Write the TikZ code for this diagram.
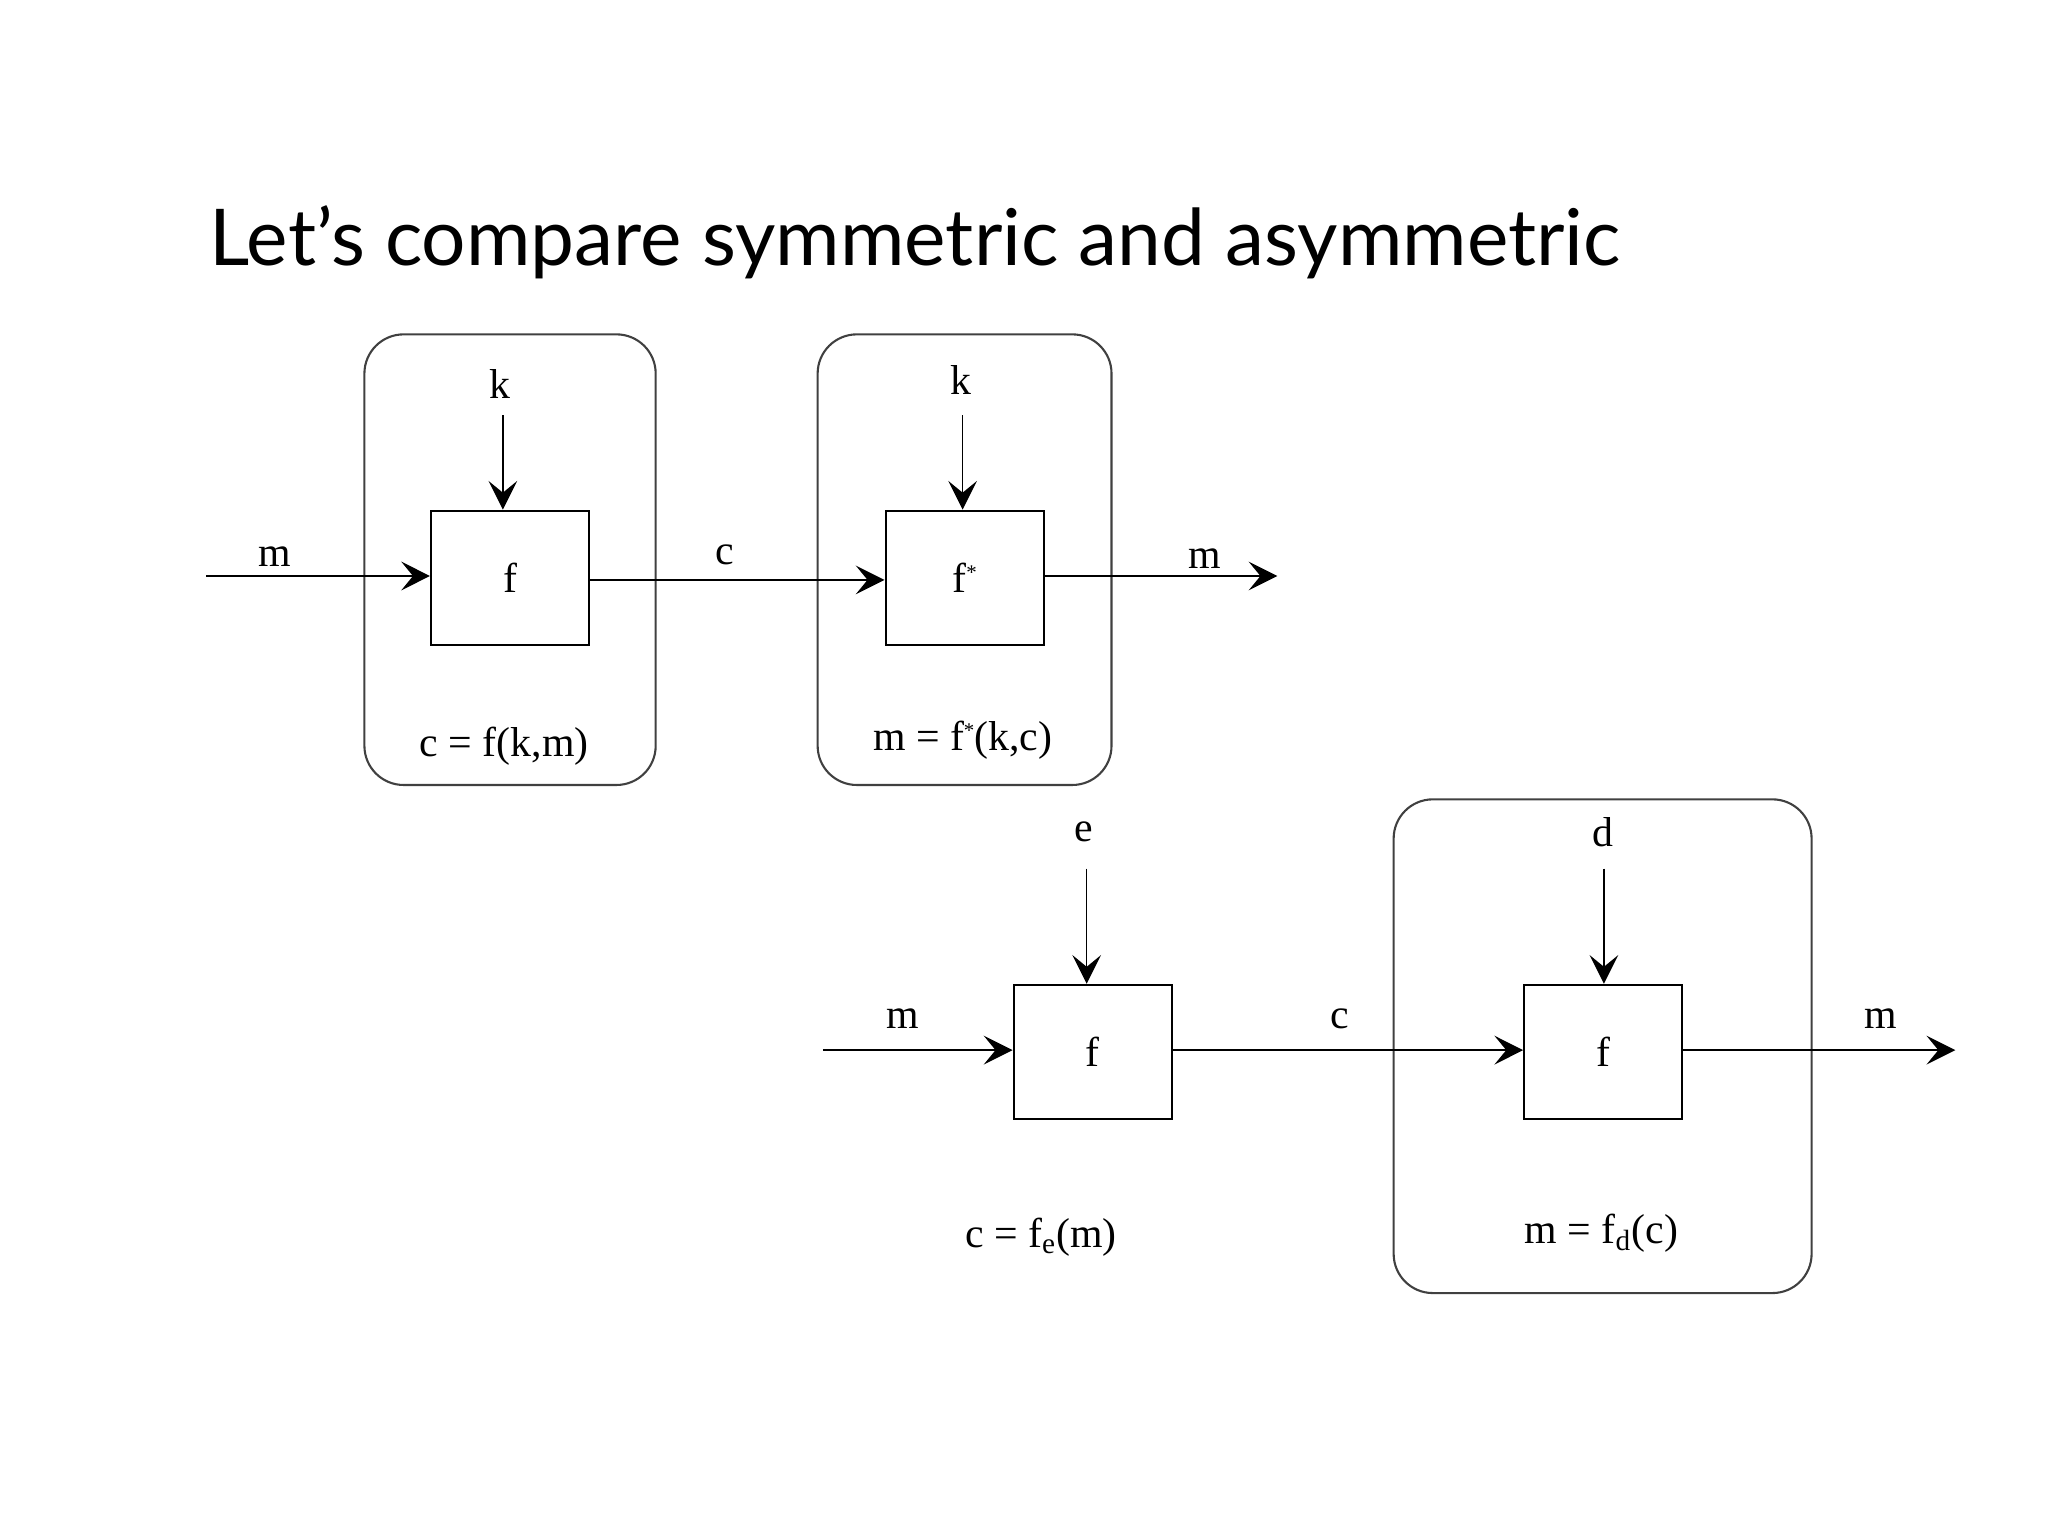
\documentclass[tikz,border=0pt]{standalone}
\usepackage{fontspec}
\setmainfont{Liberation Serif}
\newfontfamily\titlefont{Lato}
\usetikzlibrary{arrows.meta}
\begin{document}
\begin{tikzpicture}[x=0.5pt,y=-0.5pt,
  lbl/.style={font=\fontsize{16}{18}\selectfont, inner sep=0pt},
  outer/.style={draw=black!75, line width=0.8pt, rounded corners=15pt},
  fbox/.style={draw, line width=0.8pt, minimum width=60.5pt, minimum height=51.5pt, inner sep=0pt, font=\fontsize{16}{18}\selectfont},
  arr/.style={line width=0.6pt, -{Stealth[length=11pt,width=11pt,inset=4.5pt]}},
  ln/.style={line width=0.6pt}]
\useasboundingbox (0,0) rectangle (1568,1176);
\node[anchor=base west, inner sep=0pt, font=\titlefont\fontsize{30}{34}\selectfont] (title) at (160,203) {Let’s compare symmetric and asymmetric};
% top row
\draw[outer] (279,256) rectangle (502,601);
\draw[outer] (626,256) rectangle (851,601);
\node[fbox] (f1) at (390.5,442.5) {f};
\node[fbox] (f2) at (738.5,442.5) {f\raisebox{0.7ex}{\footnotesize *}};
\node[lbl] (k1) at (383,294) {k};
\node[lbl] (k2) at (736,291) {k};
\coordinate (k1s) at (385,318);
\coordinate (k2s) at (737,318);
\draw[arr] (k1s) -- (k1s |- f1.north);
\draw[arr] (k2s) -- (k2s |- f2.north);
\coordinate (m1s) at (158,441);
\draw[arr] (m1s) -- (m1s -| f1.west);
\node[lbl] (m1) at (210,426) {m};
\draw[arr] (f1.east |- 0,444) -- (f2.west |- 0,444);
\node[lbl] (c1) at (555,425) {c};
\coordinate (m2e) at (978,441);
\draw[arr] (f2.east |- m2e) -- (m2e);
\node[lbl] (m2) at (922,428) {m};
\node[lbl] (eq1) at (386,571) {c = f(k,m)};
\node[lbl] (eq2) at (737,567) {m = f\raisebox{0.7ex}{\footnotesize *}(k,c)};
% bottom row
\draw[outer] (1067,612) rectangle (1387,990);
\node[fbox] (f3) at (836.5,805.5) {f};
\node[fbox] (f4) at (1227.5,805.5) {f};
\node[lbl] (e) at (830,637) {e};
\node[lbl] (d) at (1227,637) {d};
\coordinate (es) at (832,665);
\coordinate (ds) at (1228,665);
\draw[arr] (es) -- (es |- f3.north);
\draw[arr] (ds) -- (ds |- f4.north);
\coordinate (m3s) at (630,804);
\draw[arr] (m3s) -- (m3s -| f3.west);
\node[lbl] (m3) at (691,780) {m};
\draw[arr] (f3.east |- m3s) -- (f4.west |- m3s);
\node[lbl] (c2) at (1026,780) {c};
\coordinate (m4e) at (1497,804);
\draw[arr] (f4.east |- m4e) -- (m4e);
\node[lbl] (m4) at (1440,780) {m};
\node[lbl] (eq3) at (797,947) {c = f\textsubscript{e}(m)};
\node[lbl] (eq4) at (1226,944) {m = f\textsubscript{d}(c)};
\end{tikzpicture}
\end{document}
